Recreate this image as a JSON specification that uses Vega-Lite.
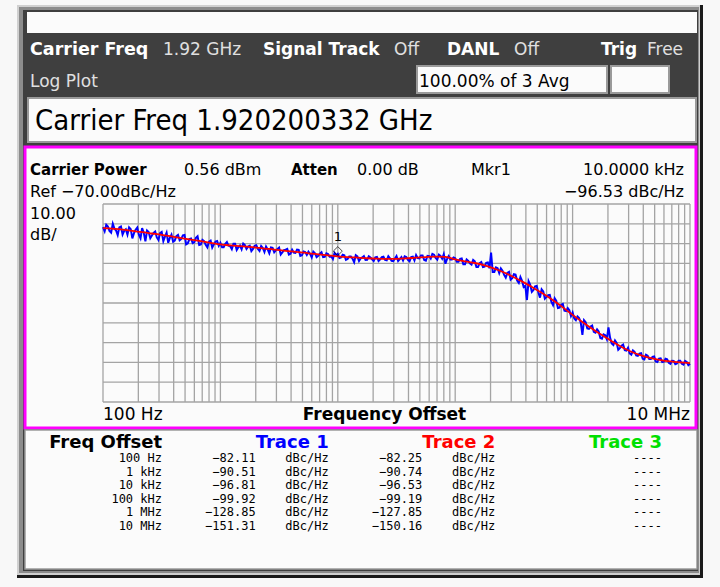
{
  "$schema": "https://vega.github.io/schema/vega-lite/v6.json",
  "width": 720,
  "height": 587,
  "padding": 0,
  "autosize": {"type": "none"},
  "background": "#f8f8f8",
  "config": {"view": {"stroke": null}, "font": "DejaVu Sans"},
  "data": {"values": [{}]},
  "datasets": {
    "vgrid": [{"f":100},{"f":200},{"f":300},{"f":400},{"f":500},{"f":600},{"f":700},{"f":800},{"f":900},{"f":1000},{"f":2000},{"f":3000},{"f":4000},{"f":5000},{"f":6000},{"f":7000},{"f":8000},{"f":9000},{"f":10000},{"f":20000},{"f":30000},{"f":40000},{"f":50000},{"f":60000},{"f":70000},{"f":80000},{"f":90000},{"f":100000},{"f":200000},{"f":300000},{"f":400000},{"f":500000},{"f":600000},{"f":700000},{"f":800000},{"f":900000},{"f":1000000},{"f":2000000},{"f":3000000},{"f":4000000},{"f":5000000},{"f":6000000},{"f":7000000},{"f":8000000},{"f":9000000},{"f":10000000}],
    "hgrid": [{"db":-70},{"db":-80},{"db":-90},{"db":-100},{"db":-110},{"db":-120},{"db":-130},{"db":-140},{"db":-150},{"db":-160},{"db":-170}],
    "red": [{"f":100,"v":-82.2},{"f":121.2,"v":-82.5},{"f":146.8,"v":-82.9},{"f":177.8,"v":-83.6},{"f":215.4,"v":-84.2},{"f":261,"v":-84.9},{"f":316.2,"v":-85.6},{"f":383.1,"v":-86.4},{"f":464.2,"v":-87.2},{"f":562.3,"v":-88.0},{"f":681.3,"v":-88.8},{"f":825.4,"v":-89.6},
      {"f":1000,"v":-90.4},{"f":1212,"v":-90.9},{"f":1468,"v":-91.3},{"f":1778,"v":-91.7},{"f":2154,"v":-92.2},{"f":2610,"v":-92.7},{"f":3162,"v":-93.3},{"f":3831,"v":-93.8},{"f":4642,"v":-94.3},{"f":5623,"v":-94.9},{"f":6813,"v":-95.4},{"f":8254,"v":-95.9},
      {"f":10000,"v":-96.4},{"f":12120,"v":-96.8},{"f":14680,"v":-97.1},{"f":17780,"v":-97.4},{"f":21540,"v":-97.6},{"f":26100,"v":-97.7},{"f":31620,"v":-97.7},{"f":38310,"v":-97.5},{"f":46420,"v":-97.1},{"f":56230,"v":-96.8},{"f":68130,"v":-96.6},{"f":82540,"v":-96.7},
      {"f":100000,"v":-98.0},{"f":121200,"v":-99.0},{"f":146800,"v":-99.8},{"f":177800,"v":-101.0},{"f":215400,"v":-102.6},{"f":261000,"v":-104.6},{"f":316200,"v":-107.0},{"f":383100,"v":-109.6},{"f":464200,"v":-112.4},{"f":562300,"v":-115.3},{"f":681300,"v":-118.6},{"f":825400,"v":-122.2},
      {"f":1000000,"v":-126.0},{"f":1212000,"v":-129.6},{"f":1468000,"v":-133.0},{"f":1778000,"v":-136.2},{"f":2154000,"v":-139.3},{"f":2610000,"v":-142.2},{"f":3162000,"v":-144.6},{"f":3831000,"v":-146.4},{"f":4642000,"v":-147.8},{"f":5623000,"v":-148.8},{"f":6813000,"v":-149.5},{"f":8254000,"v":-150.0},{"f":10000000,"v":-150.4}],
    "blue": [{"f":100,"v":-81.7},{"f":106.6,"v":-80.5},{"f":113.6,"v":-83.6},{"f":121.2,"v":-80.0},{"f":129.2,"v":-83.4},{"f":137.7,"v":-81.8},{"f":146.8,"v":-85.4},{"f":156.5,"v":-82.8},{"f":166.8,"v":-81.8},{"f":177.8,"v":-87.4},{"f":189.6,"v":-83.0},{"f":202.1,"v":-85.5},{"f":215.4,"v":-82.2},{"f":229.7,"v":-88.9},{"f":244.8,"v":-84.2},{"f":261,"v":-85.9},{"f":278.3,"v":-83.9},{"f":296.7,"v":-88.2},{"f":316.2,"v":-84.1},{"f":337.1,"v":-86.5},{"f":359.4,"v":-89.6},{"f":383.1,"v":-85.5},{"f":408.4,"v":-88.5},{"f":435.4,"v":-85.6},{"f":464.2,"v":-87.6},{"f":494.8,"v":-85.6},{"f":527.5,"v":-89.9},{"f":562.3,"v":-87.4},{"f":599.5,"v":-89.3},{"f":639.1,"v":-86.3},{"f":681.3,"v":-90.4},{"f":726.3,"v":-88.7},{"f":774.3,"v":-91.9},{"f":825.4,"v":-88.5},{"f":879.9,"v":-90.4},{"f":938,"v":-88.7},
      {"f":1000,"v":-89.6},{"f":1066,"v":-91.8},{"f":1136,"v":-89.2},{"f":1212,"v":-91.3},{"f":1292,"v":-90.1},{"f":1377,"v":-93.2},{"f":1468,"v":-91.0},{"f":1565,"v":-90.0},{"f":1668,"v":-92.7},{"f":1778,"v":-91.1},{"f":1896,"v":-92.7},{"f":2021,"v":-90.8},{"f":2154,"v":-93.7},{"f":2297,"v":-92.2},{"f":2448,"v":-91.5},{"f":2610,"v":-94.9},{"f":2783,"v":-92.2},{"f":2967,"v":-93.4},{"f":3162,"v":-92.0},{"f":3371,"v":-94.5},{"f":3594,"v":-93.1},{"f":3831,"v":-95.5},{"f":4084,"v":-93.1},{"f":4354,"v":-94.7},{"f":4642,"v":-93.2},{"f":4948,"v":-95.9},{"f":5275,"v":-94.3},{"f":5623,"v":-94.1},{"f":5995,"v":-97.0},{"f":6391,"v":-94.9},{"f":6813,"v":-96.1},{"f":7263,"v":-94.4},{"f":7743,"v":-96.7},{"f":8254,"v":-95.3},{"f":8799,"v":-96.5},{"f":9380,"v":-94.7},
      {"f":10000,"v":-95.2},{"f":10660,"v":-97.0},{"f":11360,"v":-95.9},{"f":12120,"v":-97.8},{"f":12920,"v":-96.5},{"f":13770,"v":-99.4},{"f":14680,"v":-96.5},{"f":15650,"v":-97.5},{"f":16680,"v":-96.3},{"f":17780,"v":-98.2},{"f":18960,"v":-97.0},{"f":20210,"v":-98.8},{"f":21540,"v":-96.7},{"f":22970,"v":-98.0},{"f":24480,"v":-96.6},{"f":26100,"v":-98.4},{"f":27830,"v":-97.4},{"f":29670,"v":-98.9},{"f":31620,"v":-96.3},{"f":33710,"v":-97.8},{"f":35940,"v":-98.5},{"f":38310,"v":-96.8},{"f":40840,"v":-98.9},{"f":43540,"v":-96.6},{"f":46420,"v":-95.8},{"f":49480,"v":-97.5},{"f":52750,"v":-96.0},{"f":56230,"v":-98.6},{"f":59950,"v":-96.3},{"f":63910,"v":-95.2},{"f":68130,"v":-97.2},{"f":72630,"v":-95.6},{"f":77430,"v":-97.6},{"f":82540,"v":-100.2},{"f":87990,"v":-96.3},{"f":93800,"v":-98.0},
      {"f":100000,"v":-97.4},{"f":106600,"v":-99.2},{"f":113600,"v":-97.5},{"f":121200,"v":-100.4},{"f":129200,"v":-98.8},{"f":137700,"v":-100.6},{"f":146800,"v":-99.0},{"f":156500,"v":-101.8},{"f":166800,"v":-99.3},{"f":177800,"v":-101.7},{"f":189600,"v":-99.5},{"f":202100,"v":-94.6},{"f":215400,"v":-104.4},{"f":229700,"v":-102.4},{"f":244800,"v":-102.5},{"f":261000,"v":-105.8},{"f":278300,"v":-104.8},{"f":296700,"v":-108.2},{"f":316200,"v":-105.5},{"f":337100,"v":-108.7},{"f":359400,"v":-106.9},{"f":383100,"v":-111.9},{"f":408400,"v":-118.5},{"f":435400,"v":-110.8},{"f":464200,"v":-113.4},{"f":494800,"v":-111.4},{"f":527500,"v":-117.3},{"f":562300,"v":-114.2},{"f":599500,"v":-116.9},{"f":639100,"v":-115.9},{"f":681300,"v":-121.1},{"f":726300,"v":-118.9},{"f":774300,"v":-122.3},{"f":825400,"v":-120.5},{"f":879900,"v":-124.1},{"f":938000,"v":-123.7},
      {"f":1000000,"v":-124.8},{"f":1066000,"v":-128.7},{"f":1136000,"v":-127.6},{"f":1212000,"v":-136.1},{"f":1292000,"v":-129.7},{"f":1377000,"v":-133.1},{"f":1468000,"v":-131.4},{"f":1565000,"v":-135.0},{"f":1668000,"v":-134.4},{"f":1778000,"v":-138.0},{"f":1896000,"v":-136.3},{"f":2021000,"v":-132.3},{"f":2154000,"v":-140.4},{"f":2297000,"v":-138.9},{"f":2448000,"v":-143.6},{"f":2610000,"v":-141.6},{"f":2783000,"v":-143.8},{"f":2967000,"v":-142.6},{"f":3162000,"v":-146.1},{"f":3371000,"v":-144.7},{"f":3594000,"v":-146.7},{"f":3831000,"v":-145.4},{"f":4084000,"v":-148.5},{"f":4354000,"v":-146.6},{"f":4642000,"v":-148.3},{"f":4948000,"v":-147.0},{"f":5275000,"v":-149.8},{"f":5623000,"v":-148.0},{"f":5995000,"v":-149.6},{"f":6391000,"v":-148.4},{"f":6813000,"v":-150.7},{"f":7263000,"v":-149.3},{"f":7743000,"v":-150.5},{"f":8254000,"v":-149.2},{"f":8799000,"v":-151.1},{"f":9380000,"v":-149.8},{"f":10000000,"v":-150.7},
      {"f":103.3,"v":-83.8},{"f":110.1,"v":-81.4},{"f":117.3,"v":-84.5},{"f":125.1,"v":-82.4},{"f":133.4,"v":-85.7},{"f":142.2,"v":-81.4},{"f":151.6,"v":-83.5},{"f":161.6,"v":-85.5},{"f":172.3,"v":-82.7},{"f":183.6,"v":-84.7},{"f":195.8,"v":-81.9},{"f":208.7,"v":-87.3},{"f":222.5,"v":-84.6},{"f":237.2,"v":-83.4},{"f":252.8,"v":-87.3},{"f":269.5,"v":-84.6},{"f":287.3,"v":-86.9},{"f":306.3,"v":-84.7},{"f":326.5,"v":-88.8},{"f":348.1,"v":-84.5},{"f":371.1,"v":-87.1},{"f":395.6,"v":-89.0},{"f":421.7,"v":-86.2},{"f":449.6,"v":-88.3},{"f":479.3,"v":-85.8},{"f":510.9,"v":-90.4},{"f":544.6,"v":-87.7},{"f":580.6,"v":-89.7},{"f":619,"v":-87.1},{"f":659.9,"v":-90.7},{"f":703.4,"v":-88.1},{"f":749.9,"v":-90.6},{"f":799.5,"v":-89.0},{"f":852.2,"v":-92.0},{"f":908.5,"v":-89.0},{"f":968.5,"v":-91.1},
      {"f":1033,"v":-91.8},{"f":1101,"v":-90.1},{"f":1173,"v":-91.0},{"f":1251,"v":-92.8},{"f":1334,"v":-90.1},{"f":1422,"v":-91.8},{"f":1516,"v":-92.9},{"f":1616,"v":-90.8},{"f":1723,"v":-91.5},{"f":1836,"v":-93.8},{"f":1958,"v":-91.1},{"f":2087,"v":-92.7},{"f":2225,"v":-91.2},{"f":2372,"v":-94.2},{"f":2528,"v":-92.9},{"f":2695,"v":-92.0},{"f":2873,"v":-94.4},{"f":3063,"v":-92.7},{"f":3265,"v":-95.5},{"f":3481,"v":-93.3},{"f":3711,"v":-92.7},{"f":3956,"v":-95.1},{"f":4217,"v":-94.5},{"f":4496,"v":-93.0},{"f":4793,"v":-96.2},{"f":5109,"v":-94.0},{"f":5446,"v":-95.7},{"f":5806,"v":-95.2},{"f":6190,"v":-94.1},{"f":6599,"v":-96.8},{"f":7034,"v":-95.1},{"f":7499,"v":-96.8},{"f":7995,"v":-94.9},{"f":8522,"v":-96.6},{"f":9085,"v":-97.8},{"f":9685,"v":-95.8},
      {"f":10330,"v":-97.3},{"f":11010,"v":-95.6},{"f":11730,"v":-98.2},{"f":12510,"v":-96.5},{"f":13340,"v":-97.6},{"f":14220,"v":-95.9},{"f":15160,"v":-98.8},{"f":16160,"v":-97.0},{"f":17230,"v":-98.3},{"f":18360,"v":-96.4},{"f":19580,"v":-97.9},{"f":20870,"v":-96.9},{"f":22250,"v":-98.8},{"f":23720,"v":-96.8},{"f":25280,"v":-98.2},{"f":26950,"v":-96.4},{"f":28730,"v":-98.7},{"f":30630,"v":-97.5},{"f":32650,"v":-98.8},{"f":34810,"v":-96.8},{"f":37110,"v":-96.4},{"f":39560,"v":-98.2},{"f":42170,"v":-96.8},{"f":44960,"v":-98.5},{"f":47930,"v":-97.3},{"f":51090,"v":-96.0},{"f":54460,"v":-98.3},{"f":58060,"v":-96.2},{"f":61900,"v":-97.5},{"f":65990,"v":-95.6},{"f":70340,"v":-98.1},{"f":74990,"v":-96.2},{"f":79950,"v":-95.3},{"f":85220,"v":-97.8},{"f":90850,"v":-98.0},{"f":96850,"v":-97.0},
      {"f":103300,"v":-99.2},{"f":110100,"v":-97.7},{"f":117300,"v":-100.4},{"f":125100,"v":-98.0},{"f":133400,"v":-100.0},{"f":142200,"v":-98.3},{"f":151600,"v":-101.8},{"f":161600,"v":-99.9},{"f":172300,"v":-101.9},{"f":183600,"v":-99.7},{"f":195800,"v":-102.5},{"f":208700,"v":-104.4},{"f":222500,"v":-102.0},{"f":237200,"v":-104.9},{"f":252800,"v":-103.7},{"f":269500,"v":-107.2},{"f":287300,"v":-104.3},{"f":306300,"v":-107.5},{"f":326500,"v":-105.7},{"f":348100,"v":-109.9},{"f":371100,"v":-108.8},{"f":395600,"v":-111.3},{"f":421700,"v":-109.0},{"f":449600,"v":-114.4},{"f":479300,"v":-111.6},{"f":510900,"v":-114.7},{"f":544600,"v":-113.1},{"f":580600,"v":-117.8},{"f":619000,"v":-116.1},{"f":659900,"v":-119.5},{"f":703400,"v":-117.6},{"f":749900,"v":-122.5},{"f":799500,"v":-120.9},{"f":852200,"v":-123.9},{"f":908500,"v":-122.6},{"f":968500,"v":-126.6},
      {"f":1033000,"v":-127.8},{"f":1101000,"v":-126.8},{"f":1173000,"v":-129.8},{"f":1251000,"v":-128.7},{"f":1334000,"v":-132.9},{"f":1422000,"v":-131.9},{"f":1516000,"v":-134.6},{"f":1616000,"v":-133.3},{"f":1723000,"v":-137.7},{"f":1836000,"v":-135.9},{"f":1958000,"v":-138.3},{"f":2087000,"v":-137.6},{"f":2225000,"v":-141.2},{"f":2372000,"v":-140.1},{"f":2528000,"v":-142.8},{"f":2695000,"v":-141.0},{"f":2873000,"v":-144.0},{"f":3063000,"v":-145.5},{"f":3265000,"v":-144.0},{"f":3481000,"v":-146.5},{"f":3711000,"v":-145.6},{"f":3956000,"v":-148.2},{"f":4217000,"v":-146.1},{"f":4496000,"v":-148.3},{"f":4793000,"v":-147.2},{"f":5109000,"v":-149.5},{"f":5446000,"v":-148.1},{"f":5806000,"v":-149.8},{"f":6190000,"v":-148.1},{"f":6599000,"v":-150.2},{"f":7034000,"v":-149.2},{"f":7499000,"v":-150.9},{"f":7995000,"v":-149.2},{"f":8522000,"v":-150.7},{"f":9085000,"v":-149.3},{"f":9685000,"v":-151.4}],
    "cols": [{"col":"Freq Offset"},{"col":"Trace 1"},{"col":"Trace 2"},{"col":"Trace 3"}],
    "table": [{"offset":"100 Hz","t1":-82.11,"t2":-82.25},{"offset":"1 kHz","t1":-90.51,"t2":-90.74},{"offset":"10 kHz","t1":-96.81,"t2":-96.53},{"offset":"100 kHz","t1":-99.92,"t2":-99.19},{"offset":"1 MHz","t1":-128.85,"t2":-127.85},{"offset":"10 MHz","t1":-151.31,"t2":-150.16}]
  },
  "resolve": {"scale": {"x": "independent", "y": "independent", "color": "independent"}},
  "layer": [
    {"mark": {"type": "rect", "x": 17, "x2": 703, "y": 5, "y2": 578, "fill": "#1a1a1a"}},
    {"mark": {"type": "rect", "x": 17, "x2": 700, "y": 5, "y2": 575, "fill": "#d0d0d0"}},
    {"mark": {"type": "rect", "x": 19, "x2": 699, "y": 7, "y2": 573, "fill": "#8c8c8c"}},
    {"mark": {"type": "rect", "x": 23, "x2": 698, "y": 10, "y2": 571, "fill": "#3f3f3f"}},
    {"mark": {"type": "rect", "x": 27, "x2": 697, "y": 12, "y2": 33, "fill": "#fbfbfb"}},
    {"mark": {"type": "rect", "x": 417, "x2": 607, "y": 66, "y2": 93, "fill": "#fbfbfb", "stroke": "#9a9a9a", "strokeWidth": 2}},
    {"mark": {"type": "rect", "x": 611, "x2": 669, "y": 66, "y2": 93, "fill": "#fbfbfb", "stroke": "#9a9a9a", "strokeWidth": 2}},
    {"mark": {"type": "rect", "x": 28, "x2": 696, "y": 98, "y2": 142, "fill": "#fbfbfb", "stroke": "#9a9a9a", "strokeWidth": 2}},
    {"mark": {"type": "rect", "x": 25, "x2": 696, "y": 147, "y2": 428, "fill": "#fbfbfb", "stroke": "#ff00ff", "strokeWidth": 3}},
    {"mark": {"type": "rect", "x": 25, "x2": 697, "y": 430, "y2": 569, "fill": "#fbfbfb", "stroke": "#9a9a9a", "strokeWidth": 1.5}},

    {"mark": {"type": "text", "text": "Carrier Freq", "x": 30, "y": 55, "align": "left", "baseline": "alphabetic", "fontSize": 17.5, "fontWeight": "bold", "color": "#ffffff"}},
    {"mark": {"type": "text", "text": "1.92 GHz", "x": 163, "y": 55, "align": "left", "baseline": "alphabetic", "fontSize": 17, "color": "#e0e0e0"}},
    {"mark": {"type": "text", "text": "Signal Track", "x": 263, "y": 55, "align": "left", "baseline": "alphabetic", "fontSize": 17, "fontWeight": "bold", "color": "#ffffff"}},
    {"mark": {"type": "text", "text": "Off", "x": 394, "y": 55, "align": "left", "baseline": "alphabetic", "fontSize": 17, "color": "#e0e0e0"}},
    {"mark": {"type": "text", "text": "DANL", "x": 447, "y": 55, "align": "left", "baseline": "alphabetic", "fontSize": 17, "fontWeight": "bold", "color": "#ffffff"}},
    {"mark": {"type": "text", "text": "Off", "x": 514, "y": 55, "align": "left", "baseline": "alphabetic", "fontSize": 17, "color": "#e0e0e0"}},
    {"mark": {"type": "text", "text": "Trig", "x": 601, "y": 55, "align": "left", "baseline": "alphabetic", "fontSize": 17, "fontWeight": "bold", "color": "#ffffff"}},
    {"mark": {"type": "text", "text": "Free", "x": 647, "y": 55, "align": "left", "baseline": "alphabetic", "fontSize": 17, "color": "#e0e0e0"}},
    {"mark": {"type": "text", "text": "Log Plot", "x": 30, "y": 87, "align": "left", "baseline": "alphabetic", "fontSize": 17, "color": "#e0e0e0"}},
    {"mark": {"type": "text", "text": "100.00% of 3 Avg", "x": 419, "y": 87, "align": "left", "baseline": "alphabetic", "fontSize": 17, "color": "#000000"}},
    {"mark": {"type": "text", "text": "Carrier Freq 1.920200332 GHz", "x": 35, "y": 130, "align": "left", "baseline": "alphabetic", "font": "DejaVu Sans Condensed, DejaVu Sans", "fontSize": 29, "color": "#000000"}},

    {"mark": {"type": "text", "text": "Carrier Power", "x": 30, "y": 175, "align": "left", "baseline": "alphabetic", "fontSize": 15, "fontWeight": "bold", "color": "#000000"}},
    {"mark": {"type": "text", "text": "0.56 dBm", "x": 184, "y": 175, "align": "left", "baseline": "alphabetic", "fontSize": 16, "color": "#000000"}},
    {"mark": {"type": "text", "text": "Atten", "x": 291, "y": 175, "align": "left", "baseline": "alphabetic", "fontSize": 15, "fontWeight": "bold", "color": "#000000"}},
    {"mark": {"type": "text", "text": "0.00 dB", "x": 357, "y": 175, "align": "left", "baseline": "alphabetic", "fontSize": 16, "color": "#000000"}},
    {"mark": {"type": "text", "text": "Mkr1", "x": 471, "y": 175, "align": "left", "baseline": "alphabetic", "fontSize": 16, "color": "#000000"}},
    {"mark": {"type": "text", "text": "10.0000 kHz", "x": 684, "y": 175, "align": "right", "baseline": "alphabetic", "fontSize": 16, "color": "#000000"}},
    {"mark": {"type": "text", "text": "Ref −70.00dBc/Hz", "x": 30, "y": 197, "align": "left", "baseline": "alphabetic", "fontSize": 16, "color": "#000000"}},
    {"mark": {"type": "text", "text": "−96.53 dBc/Hz", "x": 684, "y": 197, "align": "right", "baseline": "alphabetic", "fontSize": 16, "color": "#000000"}},
    {"mark": {"type": "text", "text": "10.00", "x": 30, "y": 219, "align": "left", "baseline": "alphabetic", "fontSize": 16, "color": "#000000"}},
    {"mark": {"type": "text", "text": "dB/", "x": 30, "y": 240, "align": "left", "baseline": "alphabetic", "fontSize": 16, "color": "#000000"}},

    {
      "layer": [
        {"data": {"name": "vgrid"}, "mark": {"type": "rule", "color": "#a4a4a4", "strokeWidth": 1.3},
         "encoding": {"x": {"field": "f", "type": "quantitative", "scale": {"type": "log", "domain": [100, 10000000], "range": [103, 690], "nice": false}, "axis": null},
                      "y": {"datum": -70, "type": "quantitative", "scale": {"domain": [-170, -70], "range": [402, 204], "nice": false, "zero": false}, "axis": null},
                      "y2": {"datum": -170}}},
        {"data": {"name": "hgrid"}, "mark": {"type": "rule", "color": "#a4a4a4", "strokeWidth": 1.3},
         "encoding": {"y": {"field": "db", "type": "quantitative"}, "x": {"datum": 100, "type": "quantitative"}, "x2": {"datum": 10000000}}},
        {"data": {"name": "blue"}, "mark": {"type": "line", "color": "#0000ff", "strokeWidth": 2},
         "encoding": {"x": {"field": "f", "type": "quantitative"}, "y": {"field": "v", "type": "quantitative"}}},
        {"data": {"name": "red"}, "mark": {"type": "line", "color": "#ff0000", "strokeWidth": 1.8, "interpolate": "monotone"},
         "encoding": {"x": {"field": "f", "type": "quantitative"}, "y": {"field": "v", "type": "quantitative"}}},
        {"mark": {"type": "point", "shape": "diamond", "size": 80, "filled": false, "stroke": "#000000", "strokeWidth": 1},
         "encoding": {"x": {"datum": 10000, "type": "quantitative"}, "y": {"datum": -93.8, "type": "quantitative"}}},
        {"mark": {"type": "text", "text": "1", "dy": -14, "fontSize": 13, "color": "#000000"},
         "encoding": {"x": {"datum": 10000, "type": "quantitative"}, "y": {"datum": -93.8, "type": "quantitative"}}},
        {"mark": {"type": "text", "text": "100 Hz", "align": "left", "baseline": "alphabetic", "dy": 18, "fontSize": 17, "color": "#000000"},
         "encoding": {"x": {"datum": 100, "type": "quantitative"}, "y": {"datum": -170, "type": "quantitative"}}},
        {"mark": {"type": "text", "text": "Frequency Offset", "align": "center", "baseline": "alphabetic", "dy": 18, "fontSize": 17, "fontWeight": "bold", "color": "#000000"},
         "encoding": {"x": {"datum": 25000, "type": "quantitative"}, "y": {"datum": -170, "type": "quantitative"}}},
        {"mark": {"type": "text", "text": "10 MHz", "align": "right", "baseline": "alphabetic", "dy": 18, "fontSize": 17, "color": "#000000"},
         "encoding": {"x": {"datum": 10000000, "type": "quantitative"}, "y": {"datum": -170, "type": "quantitative"}}}
      ]
    },
    {
      "layer": [
        {"data": {"name": "cols"}, "mark": {"type": "text", "align": "right", "baseline": "middle", "dy": -15, "fontSize": 18, "fontWeight": "bold"},
         "encoding": {"x": {"field": "col", "type": "ordinal", "scale": {"type": "point", "domain": ["Freq Offset", "Trace 1", "Trace 2", "Trace 3"], "range": [162, 662], "padding": 0}, "axis": null},
                      "y": {"datum": "100 Hz", "type": "ordinal", "scale": {"type": "point", "domain": ["100 Hz", "1 kHz", "10 kHz", "100 kHz", "1 MHz", "10 MHz"], "range": [458, 526], "padding": 0}, "axis": null},
                      "text": {"field": "col"},
                      "color": {"field": "col", "type": "nominal", "scale": {"domain": ["Freq Offset", "Trace 1", "Trace 2", "Trace 3"], "range": ["#000000", "#0000ff", "#ff0000", "#00e000"]}, "legend": null}}},
        {"data": {"name": "table"}, "mark": {"type": "text", "align": "right", "baseline": "middle", "font": "DejaVu Sans Mono", "fontSize": 12, "color": "#000000"},
         "encoding": {"x": {"datum": "Freq Offset", "type": "ordinal"}, "y": {"field": "offset", "type": "ordinal"}, "text": {"field": "offset"}}},
        {"data": {"name": "table"}, "mark": {"type": "text", "align": "right", "baseline": "middle", "dx": -73, "font": "DejaVu Sans Mono", "fontSize": 12, "color": "#000000"},
         "encoding": {"x": {"datum": "Trace 1", "type": "ordinal"}, "y": {"field": "offset", "type": "ordinal"}, "text": {"field": "t1", "type": "quantitative", "format": ".2f"}}},
        {"data": {"name": "table"}, "mark": {"type": "text", "text": "dBc/Hz", "align": "right", "baseline": "middle", "font": "DejaVu Sans Mono", "fontSize": 12, "color": "#000000"},
         "encoding": {"x": {"datum": "Trace 1", "type": "ordinal"}, "y": {"field": "offset", "type": "ordinal"}}},
        {"data": {"name": "table"}, "mark": {"type": "text", "align": "right", "baseline": "middle", "dx": -73, "font": "DejaVu Sans Mono", "fontSize": 12, "color": "#000000"},
         "encoding": {"x": {"datum": "Trace 2", "type": "ordinal"}, "y": {"field": "offset", "type": "ordinal"}, "text": {"field": "t2", "type": "quantitative", "format": ".2f"}}},
        {"data": {"name": "table"}, "mark": {"type": "text", "text": "dBc/Hz", "align": "right", "baseline": "middle", "font": "DejaVu Sans Mono", "fontSize": 12, "color": "#000000"},
         "encoding": {"x": {"datum": "Trace 2", "type": "ordinal"}, "y": {"field": "offset", "type": "ordinal"}}},
        {"data": {"name": "table"}, "mark": {"type": "text", "text": "----", "align": "right", "baseline": "middle", "font": "DejaVu Sans Mono", "fontSize": 12, "color": "#000000"},
         "encoding": {"x": {"datum": "Trace 3", "type": "ordinal"}, "y": {"field": "offset", "type": "ordinal"}}}
      ]
    }
  ]
}
